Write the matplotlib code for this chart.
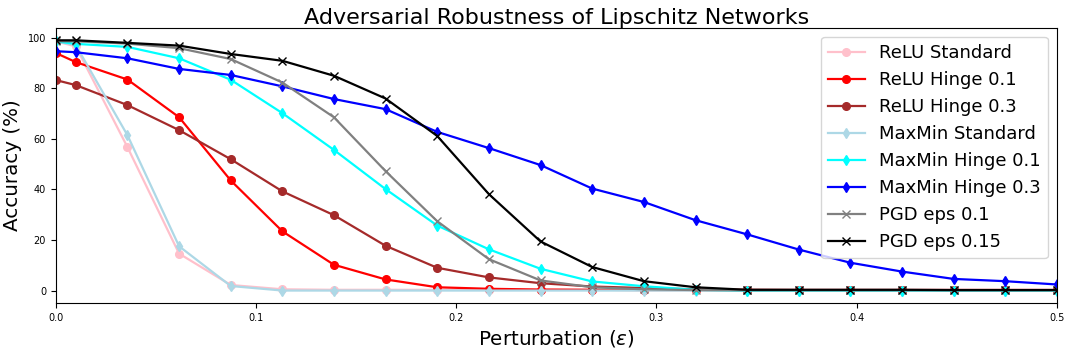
import numpy as np
import matplotlib
matplotlib.use("Agg")
import matplotlib.pyplot as plt

eps = [0.0] + list(np.round(np.linspace(0.01, 0.5, 20), 4))

relu_standard = [98.5, 96.5, 56.7, 14.6, 2.2, 0.5, 0.3, 0.3, 0.3, 0.3, 0.3, 0.3, 0.3, 0.3, 0.3, 0.3, 0.3, 0.3, 0.3, 0.3, 0.3]
relu_hinge_01 = [93.9, 90.3, 83.4, 68.5, 43.5, 23.4, 10.2, 4.4, 1.3, 0.7, 0.4, 0.3, 0.2, 0.2, 0.2, 0.2, 0.2, 0.2, 0.2, 0.2, 0.2]
relu_hinge_03 = [83.2, 81.2, 73.3, 63.4, 51.9, 39.2, 29.8, 17.7, 9.0, 5.2, 2.9, 1.6, 1.0, 0.5, 0.3, 0.2, 0.2, 0.2, 0.2, 0.2, 0.2]
maxmin_standard = [98.5, 97.0, 61.4, 17.5, 1.8, 0.0, 0.0, 0.0, 0.0, 0.0, 0.0, 0.0, 0.0, 0.0, 0.0, 0.0, 0.0, 0.0, 0.0, 0.0, 0.0]
maxmin_hinge_01 = [98.5, 97.5, 96.3, 91.8, 83.3, 70.1, 55.6, 40.1, 25.7, 16.3, 8.6, 3.6, 1.7, 0.3, 0.0, 0.0, 0.0, 0.0, 0.0, 0.0, 0.0]
maxmin_hinge_03 = [94.6, 94.2, 91.8, 87.6, 85.2, 80.7, 75.7, 71.7, 62.7, 56.3, 49.6, 40.3, 35.0, 27.8, 22.2, 16.2, 11.0, 7.5, 4.6, 3.7, 2.4]
pgd_01 = [98.5, 98.5, 97.6, 95.8, 91.5, 82.2, 68.5, 47.2, 27.4, 12.4, 4.0, 1.3, 0.5, 0.2, 0.1, 0.1, 0.1, 0.1, 0.1, 0.1, 0.1]
pgd_015 = [98.9, 98.9, 97.9, 96.8, 93.5, 90.8, 84.9, 75.9, 61.1, 38.1, 19.4, 9.3, 3.7, 1.3, 0.3, 0.3, 0.3, 0.3, 0.2, 0.2, 0.2]

series = [
    ("ReLU Standard", relu_standard, "pink", "o"),
    ("ReLU Hinge 0.1", relu_hinge_01, "red", "o"),
    ("ReLU Hinge 0.3", relu_hinge_03, "brown", "o"),
    ("MaxMin Standard", maxmin_standard, "lightblue", "d"),
    ("MaxMin Hinge 0.1", maxmin_hinge_01, "cyan", "d"),
    ("MaxMin Hinge 0.3", maxmin_hinge_03, "blue", "d"),
    ("PGD eps 0.1", pgd_01, "gray", "x"),
    ("PGD eps 0.15", pgd_015, "black", "x"),
]

fig = plt.figure(figsize=(10.72, 3.52), dpi=100)
ax = fig.add_axes([0.052, 0.139, 0.934, 0.782])
for label, vals, color, marker in series:
    ax.plot(eps, vals, color=color, marker=marker, markersize=5.5, linewidth=1.6, label=label)

ax.set_xlim(0, 0.5)
ax.set_title("Adversarial Robustness of Lipschitz Networks", fontsize=16, pad=1.5)
ax.set_xlabel("Perturbation ($\\epsilon$)", fontsize=14.3)
ax.set_ylabel("Accuracy (%)", fontsize=14.3)
ax.tick_params(labelsize=7)
ax.legend(loc="upper right", fontsize=13)
fig.savefig("out.png", dpi=100)
